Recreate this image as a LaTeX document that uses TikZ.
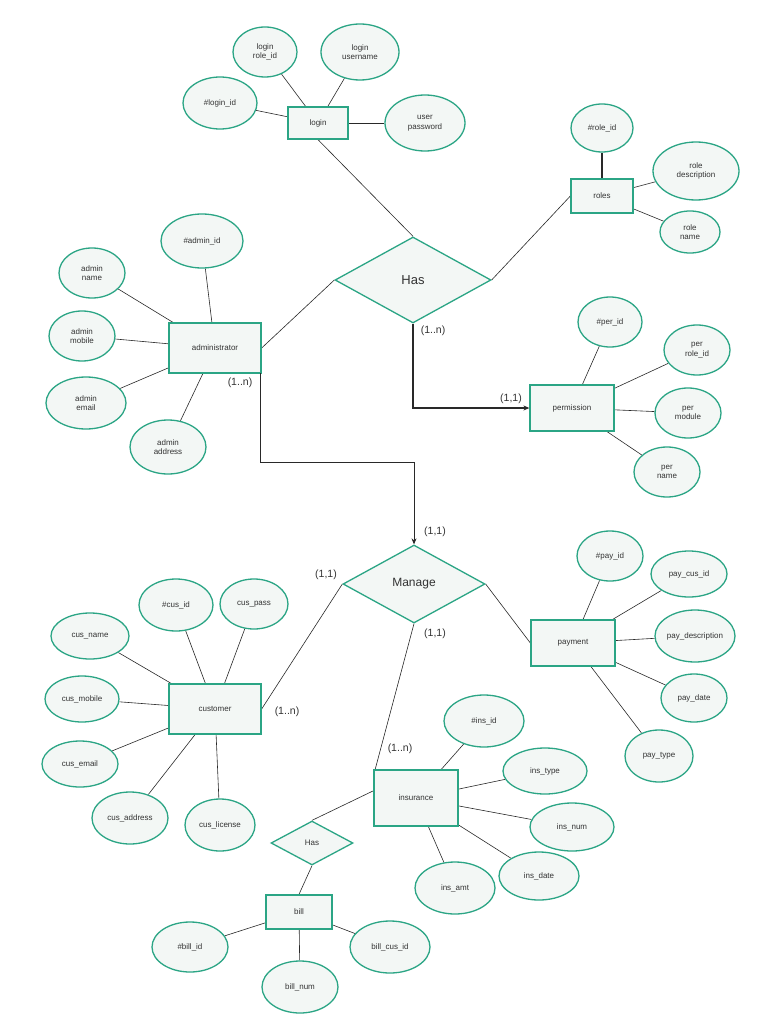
\documentclass[tikz,border=0pt]{standalone}
\usepackage{fontspec}
\setmainfont{Liberation Sans}
\usetikzlibrary{shapes.geometric,arrows.meta,backgrounds}
\definecolor{gr}{HTML}{2BA585}
\definecolor{fl}{HTML}{F3F7F5}
\definecolor{tx}{HTML}{333333}
\begin{document}
\begin{tikzpicture}[x=1pt,y=-1pt,
 att/.style={ellipse,draw=gr,line width=1.3pt,fill=fl,inner sep=0pt,align=center,font=\fontsize{8}{9.5}\selectfont,text=tx},
 ent/.style={rectangle,draw=gr,line width=1.3pt,fill=fl,inner sep=0pt,align=center,font=\fontsize{8}{9.5}\selectfont,text=tx},
 rel/.style={diamond,draw=gr,line width=1.3pt,fill=fl,inner sep=0pt,aspect=1.8,text=tx},
 ln/.style={draw=tx!80!black,line width=0.6pt},
 lab/.style={font=\fontsize{10.5}{12}\selectfont,text=tx}]
\useasboundingbox (0,0) rectangle (768,1024);
\newcommand{\myatt}[5]{\node[att,minimum width=#3,minimum height=#4] (#1) at #2 {#5};}
\newcommand{\myent}[5]{\node[ent,minimum width=#3,minimum height=#4] (#1) at #2 {#5};}
% relationships
\node[rel,minimum width=156,minimum height=86,font=\fontsize{13}{15}\selectfont] (has) at (413,280) {Has};
\node[rel,minimum width=142,minimum height=78,font=\fontsize{12}{14}\selectfont] (man) at (414,584) {Manage};
\node[rel,minimum width=82,minimum height=44,font=\fontsize{8}{9.5}\selectfont] (has2) at (312,843) {Has};
% entities
\myent{login}{(318,123)}{60}{32}{login}
\myent{roles}{(602,196)}{62}{34}{roles}
\myent{admin}{(215,348)}{92}{50}{administrator}
\myent{perm}{(572,408)}{84}{46}{permission}
\myent{cust}{(215,709)}{92}{50}{customer}
\myent{pay}{(573,643)}{84}{46}{payment}
\myent{ins}{(416,798)}{84}{56}{insurance}
\myent{bill}{(299,912)}{66}{34}{bill}
% attributes
\myatt{lrid}{(265,52)}{64}{50}{login\\role\_id}
\myatt{lun}{(360,52)}{78}{56}{login\\username}
\myatt{lid}{(220,103)}{74}{52}{\#login\_id}
\myatt{upw}{(425,123)}{80}{56}{user\\password}
\myatt{rid}{(602,128)}{62}{48}{\#role\_id}
\myatt{rdesc}{(696,171)}{86}{58}{role\\description}
\myatt{rname}{(690,232)}{60}{42}{role\\name}
\myatt{aid}{(202,241)}{82}{54}{\#admin\_id}
\myatt{aname}{(92,273)}{66}{50}{admin\\name}
\myatt{amob}{(82,336)}{66}{50}{admin\\mobile}
\myatt{aemail}{(86,403)}{80}{52}{admin\\email}
\myatt{aaddr}{(168,447)}{76}{54}{admin\\address}
\myatt{pid}{(610,322)}{64}{50}{\#per\_id}
\myatt{prid}{(697,350)}{66}{50}{per\\role\_id}
\myatt{pmod}{(688,413)}{66}{50}{per\\module}
\myatt{pname}{(667,472)}{66}{50}{per\\name}
\myatt{cid}{(176,605)}{74}{52}{\#cus\_id}
\myatt{cpass}{(254,604)}{68}{50}{cus\_pass}
\myatt{cname}{(90,636)}{78}{46}{cus\_name}
\myatt{cmob}{(82,699)}{74}{46}{cus\_mobile}
\myatt{cemail}{(80,764)}{76}{46}{cus\_email}
\myatt{caddr}{(130,818)}{76}{52}{cus\_address}
\myatt{clic}{(220,825)}{70}{52}{cus\_license}
\myatt{payid}{(610,556)}{66}{50}{\#pay\_id}
\myatt{paycid}{(689,574)}{76}{46}{pay\_cus\_id}
\myatt{paydesc}{(695,636)}{80}{52}{pay\_description}
\myatt{paydate}{(694,698)}{66}{48}{pay\_date}
\myatt{paytype}{(659,756)}{68}{52}{pay\_type}
\myatt{insid}{(484,721)}{80}{52}{\#ins\_id}
\myatt{instype}{(545,771)}{84}{46}{ins\_type}
\myatt{insnum}{(572,827)}{84}{48}{ins\_num}
\myatt{insdate}{(539,876)}{80}{48}{ins\_date}
\myatt{insamt}{(455,888)}{80}{52}{ins\_amt}
\myatt{bid}{(190,947)}{76}{50}{\#bill\_id}
\myatt{bcid}{(390,947)}{80}{52}{bill\_cus\_id}
\myatt{bnum}{(300,987)}{76}{52}{bill\_num}
\coordinate (ab) at (260,373);
\coordinate (ma) at (414,462);
\coordinate (itl) at (375,770);
\coordinate (il) at (375,790);
% connectors
\begin{scope}[on background layer]
\fill[white] (0,0) rectangle (768,1024);
\foreach \a/\b in {login/lrid,login/lun,login/lid,login/upw,roles/rdesc,roles/rname,
 admin/aid,admin/aname,admin/amob,admin/aemail,admin/aaddr,
 perm/pid,perm/prid,perm/pmod,perm/pname,
 cust/cid,cust/cpass,cust/cname,cust/cmob,cust/cemail,cust/caddr,cust/clic,
 pay/payid,pay/paycid,pay/paydesc,pay/paydate,pay/paytype,
 ins/insid,ins/instype,ins/insnum,ins/insdate,ins/insamt,
 bill/bid,bill/bcid,bill/bnum}
 \draw[ln] (\a) -- (\b);
\draw[ln,line width=1.5pt] (roles) -- (rid);
\draw[ln] (login.south) -- (has.north);
\draw[ln] (roles.west) -- (has.east);
\draw[ln] (admin.east) -- (has.west);
\draw[ln] (man.west) -- (cust.east);
\draw[ln] (man.south) -- (itl);
\draw[ln] (man.east) -- (pay.west);
\draw[ln] (il) -- (has2.north);
\draw[ln] (has2.south) -- (bill.north);
\end{scope}
\draw[ln,line width=1.2pt,-{Stealth[length=6pt,width=5pt]}] (has.south) |- (perm.west);
\draw[ln,-{Stealth[length=6pt,width=5pt]}] (ab) |- (ma) -- (man.north);
% labels
\node[lab] at (433,331) {(1..n)};
\node[lab] at (511,399) {(1,1)};
\node[lab] at (240,383) {(1..n)};
\node[lab] at (435,532) {(1,1)};
\node[lab] at (326,575) {(1,1)};
\node[lab] at (287,712) {(1..n)};
\node[lab] at (435,634) {(1,1)};
\node[lab] at (400,749) {(1..n)};
\end{tikzpicture}
\end{document}
